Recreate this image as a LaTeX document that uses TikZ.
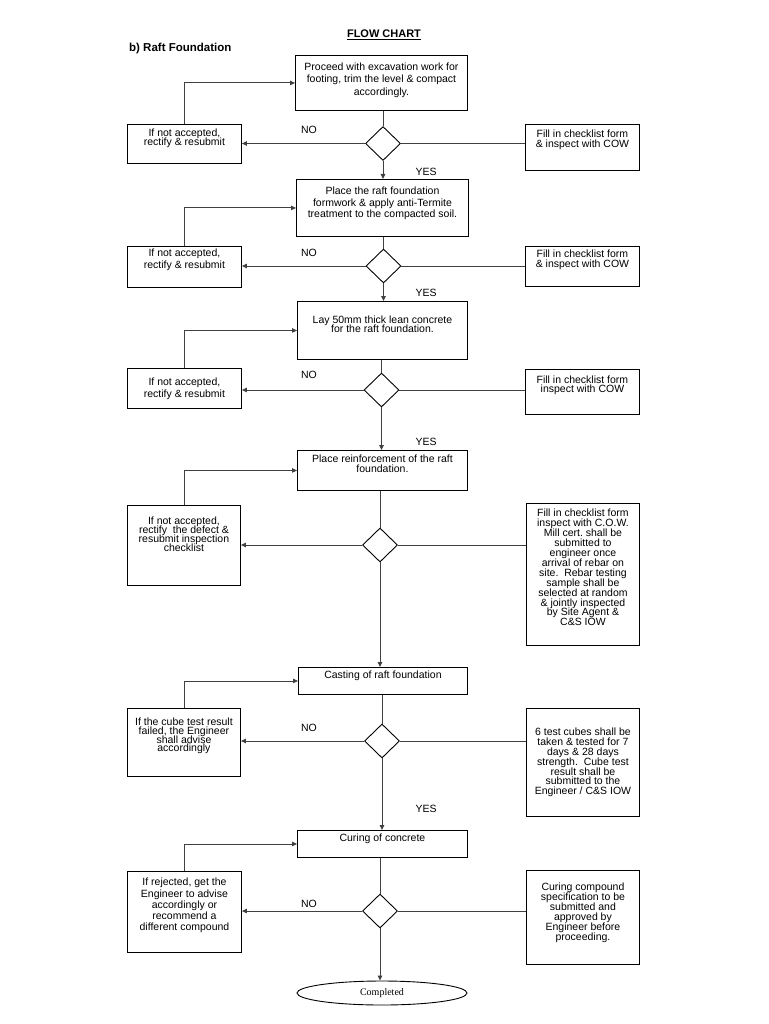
\documentclass[tikz,border=0pt]{standalone}
\usepackage{fontspec}
\setmainfont{Liberation Sans}
\newfontfamily\serifrm{Liberation Serif}
\usetikzlibrary{arrows.meta,shapes.geometric}
\frenchspacing
\newcommand\tbx[5]{\parbox[c][#2][t]{#1}{\fontsize{10.5pt}{#4}\selectfont\lineskiplimit=-50pt\lineskip=0pt\centering\rule{0pt}{#3}#5\par}}
\tikzset{
  box/.style={draw=black, line width=0.9pt, inner sep=0pt, anchor=north west},
  dia/.style={draw=black, line width=0.9pt, diamond, inner sep=0pt, minimum width=35pt, minimum height=34pt},
  conn/.style={draw=black!75, line width=0.9pt},
  arr/.style={conn, -{Triangle[length=5pt,width=4.5pt]}},
  lbl/.style={inner sep=0pt, font=\fontsize{10.5pt}{12pt}\selectfont}
}
\begin{document}
\begin{tikzpicture}[x=1pt,y=-1pt]
\useasboundingbox[fill=white] (0,0) rectangle (768,1024);

\node[inner sep=0pt, font=\bfseries\fontsize{11pt}{13pt}\selectfont] (title) at (384,35) {\underline{FLOW CHART}};
\node[inner sep=0pt, anchor=west, font=\bfseries\fontsize{11.5pt}{13pt}\selectfont] (sub) at (129,49) {b) Raft Foundation};

% main boxes
\node[box] (b1) at (295,55) {\tbx{172pt}{55pt}{15.2pt}{12.2pt}{Proceed with excavation work for\\footing, trim the level \& compact\\accordingly.}};
\node[box] (b2) at (296,179) {\tbx{172pt}{57pt}{15.2pt}{11.5pt}{Place the raft foundation\\formwork \& apply anti-Termite\\treatment to the compacted soil.}};
\node[box] (b3) at (297,301) {\tbx{170pt}{58pt}{22.5pt}{9pt}{Lay 50mm thick lean concrete\\for the raft foundation.}};
\node[box] (b4) at (297,450) {\tbx{170pt}{40pt}{12.5pt}{10pt}{Place reinforcement of the raft\\foundation.}};
\node[box] (b5) at (298,667) {\tbx{169pt}{27pt}{11.5pt}{12pt}{Casting of raft foundation}};
\node[box] (b6) at (297,830) {\tbx{170pt}{27pt}{11.5pt}{12pt}{Curing of concrete}};

% left boxes
\node[box] (l1) at (127,124) {\tbx{114pt}{39pt}{12.5pt}{9pt}{If not accepted,\\rectify \& resubmit}};
\node[box] (l2) at (127,246) {\tbx{114pt}{41pt}{10.5pt}{12pt}{If not accepted,\\rectify \& resubmit}};
\node[box] (l3) at (127,368) {\tbx{114pt}{40pt}{17.5pt}{12pt}{If not accepted,\\rectify \& resubmit}};
\node[box] (l4) at (127,505) {\tbx{113pt}{80pt}{19.2pt}{8.8pt}{If not accepted,\\rectify\ \ the defect \&\\resubmit inspection\\checklist}};
\node[box] (l5) at (127,708) {\tbx{113pt}{68pt}{17.5pt}{8.6pt}{If the cube test result\\failed, the Engineer\\shall advise\\accordingly}};
\node[box] (l6) at (127,871) {\tbx{114pt}{81pt}{14.5pt}{11.2pt}{If rejected, get the\\Engineer to advise\\accordingly or\\recommend a\\different compound}};

% right boxes
\node[box] (r1) at (525,124) {\tbx{114pt}{46pt}{13.5pt}{10pt}{Fill in checklist form\\\& inspect with COW}};
\node[box] (r2) at (525,246) {\tbx{114pt}{40pt}{11.5pt}{10pt}{Fill in checklist form\\\& inspect with COW}};
\node[box] (r3) at (525,369) {\tbx{114pt}{45pt}{14pt}{9pt}{Fill in checklist form\\inspect with COW}};
\node[box] (r4) at (526,503) {\tbx{113pt}{142pt}{13.5pt}{9.9pt}{Fill in checklist form\\inspect with C.O.W.\\Mill cert. shall be\\submitted to\\engineer once\\arrival of rebar on\\site.\ \ Rebar testing\\sample shall be\\selected at random\\\& jointly inspected\\by Site Agent \&\\C\&S IOW}};
\node[box] (r5) at (526,708) {\tbx{113pt}{108pt}{27.5pt}{9.8pt}{6 test cubes shall be\\taken \& tested for 7\\days \& 28 days\\strength.\ \ Cube test\\result shall be\\submitted to the\\Engineer / C\&S IOW}};
\node[box] (r6) at (526,870) {\tbx{113pt}{94pt}{20.5pt}{10pt}{Curing compound\\specification to be\\submitted and\\approved by\\Engineer before\\proceeding.}};

% diamonds
\node[dia] (d1) at (383,143.5) {};
\node[dia] (d2) at (383.5,266) {};
\node[dia] (d3) at (381.5,390) {};
\node[dia] (d4) at (380,545) {};
\node[dia] (d5) at (382,741) {};
\node[dia] (d6) at (380,911) {};

% end
\node[ellipse, draw=black, line width=0.9pt, minimum width=170pt, minimum height=24pt, inner sep=0pt, font=\serifrm\fontsize{10pt}{12pt}\selectfont] (end) at (382,993) {Completed};

% labels
\node[lbl] (no1) at (309,130) {NO};
\node[lbl] (no2) at (309,253) {NO};
\node[lbl] (no3) at (309,375) {NO};
\node[lbl] (no5) at (309,728) {NO};
\node[lbl] (no6) at (309,904) {NO};
\node[lbl] (yes1) at (426,171.5) {YES};
\node[lbl] (yes2) at (426,293) {YES};
\node[lbl] (yes3) at (426,442) {YES};
\node[lbl] (yes5) at (426,809) {YES};

% connectors
\foreach \b/\d/\l/\r in {b1/d1/l1/r1, b2/d2/l2/r2, b3/d3/l3/r3, b4/d4/l4/r4, b5/d5/l5/r5, b6/d6/l6/r6}{
  \draw[conn] (\b.south -| \d.north) -- (\d.north);
  \draw[arr] (\d.west) -- (\d.west -| \l.east);
  \draw[conn] (\d.east) -- (\d.east -| \r.west);
  \draw[arr] ([xshift=57pt]\l.north west) |- (\b.west);
}
\foreach \d/\b in {d1/b2, d2/b3, d3/b4, d4/b5, d5/b6, d6/end}{
  \draw[arr] (\d.south) -- (\d.south |- \b.north);
}
\end{tikzpicture}
\end{document}
